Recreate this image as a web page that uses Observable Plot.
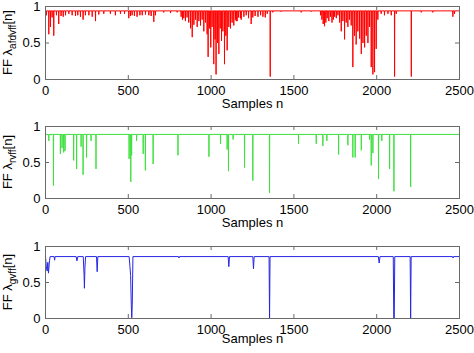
<!DOCTYPE html>
<html><head><meta charset="utf-8">
<script src="https://cdn.jsdelivr.net/npm/d3@7"></script>
<script src="https://cdn.jsdelivr.net/npm/@observablehq/plot@0.6"></script>
<style>
body{margin:0;background:#fff;}
#chart{width:474px;height:353px;overflow:hidden;background:#fff;}
#chart svg{display:block;}
</style></head><body><div id="chart"></div>
<script>
const xTicks = [0, 500, 1000, 1500, 2000, 2500];
const xTickLabels = ["0", "500", "1000", "1500", "2000", "2500"];
const yTicks = [0, 0.5, 1];
const yTickLabels = ["0", "0.5", "1"];
const xLabel = "Samples n";
const yLabelMain = "FF λ";
const yLabelSubs = ["afdvff", "rvff", "gvff"];
const yLabelEnd = "[n]";
const nMax = 2500;

// Panel 1 (red): baseline and dips
const redBase = 0.94;
const redDipN = [6,20,30,40,50,66,80,94,107,121,141,161,181,195,211,227,241,262,282,302,322,352,392,422,453,477,
  503,513,523,537,553,570,584,604,624,638,654,664,714,755,795,
  819,827,835,845,855,865,876,886,896,906,916,926,936,946,956,966,976,982,990,998,1006,1016,1024,1030,1039,1047,1055,1063,1071,1081,1089,1097,1107,1117,1127,1137,1147,1152,1157,1166,1177,1182,1198,1212,1226,1242,1252,1266,1283,1299,1313,1327,1339,1357,1373,1423,1544,1605,
  1661,1669,1677,1685,1693,1701,1711,1721,1730,1738,1746,1756,1766,1776,1786,1796,1806,1816,1826,1836,1846,1856,1866,1876,1886,1897,1907,1917,1927,1937,1947,1957,1967,1977,1987,1997,2007,2027,2047,2068,2088,2108,2118,2209,2269,2339,2460,2470];
const redDipV = [0.88,0.62,0.72,0.85,0.6,0.88,0.76,0.87,0.86,0.88,0.9,0.88,0.87,0.88,0.86,0.82,0.88,0.88,0.86,0.8,0.89,0.9,0.9,0.88,0.9,0.9,
  0.84,0.87,0.88,0.87,0.86,0.88,0.88,0.89,0.88,0.87,0.79,0.88,0.92,0.91,0.92,
  0.86,0.82,0.84,0.8,0.85,0.78,0.7,0.58,0.75,0.82,0.72,0.8,0.74,0.82,0.66,0.78,0.62,0.31,0.7,0.44,0.72,0.21,0.55,0.07,0.5,0.35,0.7,0.53,0.66,0.21,0.6,0.4,0.72,0.7,0.78,0.74,0.82,0.8,0.8,0.85,0.84,0.82,0.86,0.88,0.84,0.76,0.85,0.87,0.86,0.88,0.86,0.85,0.9,0.04,0.92,0.93,0.92,0.93,
  0.88,0.82,0.76,0.73,0.78,0.84,0.8,0.86,0.78,0.82,0.86,0.84,0.88,0.78,0.66,0.8,0.55,0.78,0.72,0.82,0.74,0.17,0.6,0.48,0.66,0.56,0.35,0.5,0.44,0.6,0.5,0.72,0.17,0.07,0.1,0.42,0.82,0.9,0.88,0.9,0.88,0.04,0.9,0.04,0.92,0.92,0.86,0.9];

// Panel 2 (green): baseline and dips
const greenBase = 0.89;
const greenDipN = [20,48,90,100,110,118,170,188,215,227,248,275,305,505,515,520,550,590,603,650,800,987,1057,1097,1105,1133,1202,1252,1353,1528,1635,1675,1699,1770,1826,1856,1870,1907,1957,1967,1977,2011,2031,2078,2104,2205];
const greenDipV = [0.8,0.18,0.62,0.7,0.64,0.66,0.53,0.41,0.72,0.33,0.57,0.8,0.41,0.55,0.23,0.6,0.8,0.62,0.39,0.48,0.6,0.58,0.76,0.68,0.38,0.82,0.43,0.25,0.08,0.76,0.76,0.73,0.8,0.61,0.74,0.57,0.57,0.67,0.82,0.46,0.63,0.27,0.8,0.41,0.1,0.16];

// Panel 3 (blue): explicit samples
const blueN = [0,5,10,14,18,24,28,52,55,58,185,190,195,228,233,235,238,242,308,312,316,505,510,514,518,521,524,528,803,806,809,1103,1107,1111,1252,1256,1260,1350,1353,1356,2010,2015,2020,2100,2103,2106,2109,2202,2205,2208,2458,2461,2464,2500];
const blueV = [0.86,0.72,0.66,0.78,0.63,0.8,0.86,0.86,0.81,0.86,0.86,0.8,0.86,0.86,0.6,0.42,0.7,0.86,0.86,0.65,0.86,0.86,0.72,0.6,0.2,0.01,0.2,0.86,0.86,0.84,0.86,0.86,0.72,0.86,0.86,0.69,0.86,0.86,0.0,0.86,0.86,0.77,0.86,0.86,0.0,0.0,0.86,0.86,0.0,0.86,0.86,0.84,0.86,0.86];

const colors = ["#ff0000", "#3ee03e", "#2626e6"];

function spikes(base, ns, vs) {
  const pts = [{n: 0, v: base}];
  ns.forEach((n, i) => { pts.push({n: n - 1, v: base}, {n, v: vs[i]}, {n: n + 1, v: base}); });
  pts.push({n: nMax, v: base});
  return pts;
}
const series = [
  spikes(redBase, redDipN, redDipV),
  spikes(greenBase, greenDipN, greenDipV),
  blueN.map((n, i) => ({n, v: blueV[i]}))
];

const FONT = "'Liberation Sans', Arial, Helvetica, sans-serif";
const layout = [
  {height: 118, mt: 6, mb: 39, labelDy: 28},
  {height: 118, mt: 8, mb: 38, labelDy: 28},
  {height: 117, mt: 10, mb: 35, labelDy: 24}
];

const chart = document.getElementById("chart");
layout.forEach((L, k) => {
  const W = 474, ml = 45, mr = 15;
  const iw = W - ml - mr, ih = L.height - L.mt - L.mb;
  const svg = Plot.plot({
    width: W, height: L.height,
    marginLeft: ml, marginRight: mr, marginTop: L.mt, marginBottom: L.mb,
    style: {fontFamily: FONT, fontSize: "13px", color: "#000", background: "#fff", overflow: "visible"},
    x: {domain: [0, nMax]},
    y: {domain: [0, 1]},
    marks: [
      Plot.line(series[k], {x: "n", y: "v", stroke: colors[k], strokeWidth: 1}),
      Plot.frame({stroke: "#6a6a6a"}),
      Plot.tickX(xTicks, {x: d => d, insetTop: ih - 4, stroke: "#6a6a6a"}),
      Plot.tickX(xTicks, {x: d => d, insetBottom: ih - 4, stroke: "#6a6a6a"}),
      Plot.tickY(yTicks, {y: d => d, insetRight: iw - 4, stroke: "#6a6a6a"}),
      Plot.tickY(yTicks, {y: d => d, insetLeft: iw - 4, stroke: "#6a6a6a"}),
      Plot.axisX({ticks: xTicks, tickSize: 0, tickPadding: 6, label: null, fontSize: 13,
        tickFormat: d => xTickLabels[xTicks.indexOf(d)]}),
      Plot.axisY({ticks: yTicks, tickSize: 0, tickPadding: 5, label: null, fontSize: 13,
        tickFormat: d => yTickLabels[yTicks.indexOf(d)]}),
      Plot.text([xLabel], {frameAnchor: "bottom", dy: L.labelDy, text: d => d, fontSize: 13, fill: "#000"})
    ]
  });
  const t = d3.select(svg).append("text")
    .attr("transform", `translate(12,${L.mt + ih / 2}) rotate(-90)`)
    .attr("text-anchor", "middle")
    .attr("font-family", FONT)
    .attr("font-size", 13)
    .attr("fill", "#000");
  t.append("tspan").text(yLabelMain);
  t.append("tspan").attr("dy", 4).attr("font-size", 10).text(yLabelSubs[k]);
  t.append("tspan").attr("dy", -4).text(yLabelEnd);
  chart.appendChild(svg);
});
</script></body></html>
